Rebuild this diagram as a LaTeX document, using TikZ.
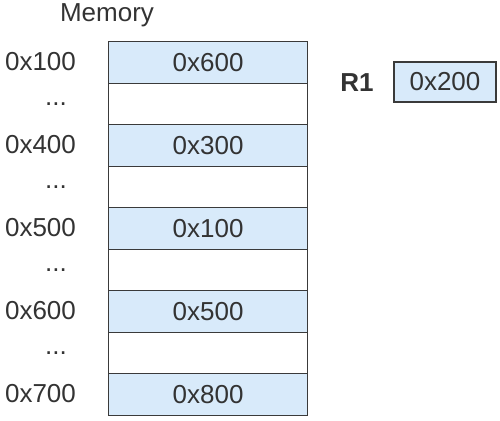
\documentclass[tikz,border=0pt]{standalone}
\usepackage{fontspec}
\setmainfont{Liberation Sans}
\definecolor{cellblue}{HTML}{D8EAFA}
\definecolor{edge}{HTML}{3A3A3A}
\definecolor{txt}{HTML}{333333}
\begin{document}
\begin{tikzpicture}[x=1pt,y=-1pt,
  cell/.style={draw=edge,line width=1.1pt,minimum width=199pt,minimum height=41.5pt,inner sep=0pt,anchor=north west,font=\fontsize{26}{30}\selectfont,text=txt},
  full/.style={cell,fill=cellblue},
  empty/.style={cell,fill=white},
  addr/.style={font=\fontsize{26}{30}\selectfont,text=txt},
  reg/.style={draw=edge,line width=1.1pt,fill=cellblue,minimum width=102pt,minimum height=40pt,inner sep=0pt,font=\fontsize{26}{30}\selectfont,text=txt}]
\useasboundingbox (0,0) rectangle (500,420);
\node[addr] (mem) at (107,15) {Memory};
\node[full]  (c1) at (108,41) {0x600};
\node[empty] (c2) at (108,82.5) {};
\node[full]  (c3) at (108,124) {0x300};
\node[empty] (c4) at (108,165.5) {};
\node[full]  (c5) at (108,207) {0x100};
\node[empty] (c6) at (108,248.5) {};
\node[full]  (c7) at (108,290) {0x500};
\node[empty] (c8) at (108,331.5) {};
\node[full]  (c9) at (108,373) {0x800};
\node[addr] (a1) at (40.5,61.75) {0x100};
\node[addr] (d1) at (56,104) {...};
\node[addr] (a2) at (40.5,144.75) {0x400};
\node[addr] (d2) at (56,187) {...};
\node[addr] (a3) at (40.5,227.75) {0x500};
\node[addr] (d3) at (56,270) {...};
\node[addr] (a4) at (40.5,310.75) {0x600};
\node[addr] (d4) at (56,353) {...};
\node[addr] (a5) at (40.5,393.75) {0x700};
\node[addr,font=\fontsize{26}{30}\selectfont\bfseries] (r1l) at (357,83) {R1};
\node[reg] (r1) at (445,82) {0x200};
\end{tikzpicture}
\end{document}
